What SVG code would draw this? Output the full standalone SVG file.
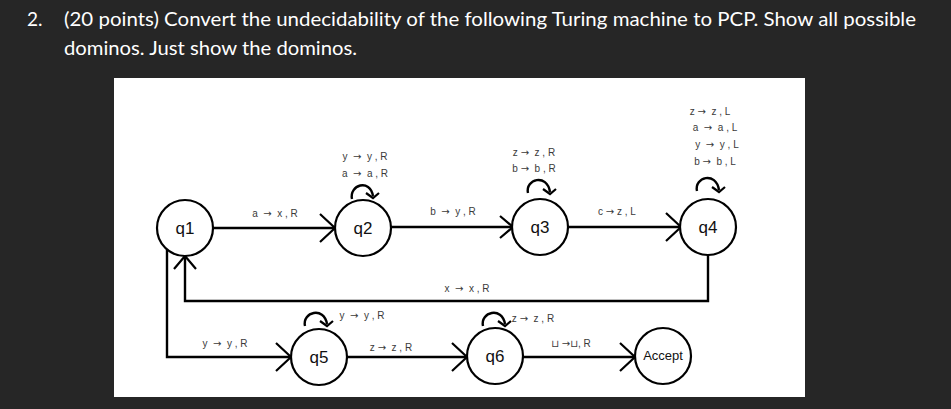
<svg xmlns="http://www.w3.org/2000/svg" width="951" height="409" viewBox="0 0 951 409">
<style>
.title{font-family:"Lato","Open Sans","Liberation Sans",sans-serif;font-size:19px;fill:#ffffff}
.node circle{fill:#ffffff;stroke:#000;stroke-width:2.2}
.node text{font-family:"Liberation Sans",Arial,sans-serif;font-size:17px;fill:#111;text-anchor:middle;dominant-baseline:central}
.node text.small{font-size:13px}
.edge{fill:none;stroke:#000;stroke-width:2.4}
.head{fill:none;stroke:#000;stroke-width:2.2}
.lbl{font-family:"Liberation Sans",Arial,sans-serif;font-size:10px;fill:#3a3a3a;text-anchor:middle;dominant-baseline:central;white-space:pre}
.ar{font-family:"DejaVu Sans",sans-serif;font-size:10px}
</style>
<defs>
<marker id="arr" markerUnits="userSpaceOnUse" markerWidth="40" markerHeight="40" viewBox="-20 -20 40 40" refX="0" refY="0" orient="auto">
<path d="M-15,-14 L0,0 L-15,14" fill="none" stroke="#000" stroke-width="2.2"/>
</marker>
<marker id="arrs" markerUnits="userSpaceOnUse" markerWidth="40" markerHeight="40" viewBox="-20 -20 40 40" refX="0" refY="0" orient="auto">
<path d="M-13,-11 L0,0 L-13,11" fill="none" stroke="#000" stroke-width="2.2"/>
</marker>
</defs>
<rect x="0" y="0" width="951" height="409" fill="#262626"/>
<text class="title" x="27" y="26">2.</text>
<text class="title" x="64" y="26" textLength="852" lengthAdjust="spacingAndGlyphs">(20 points) Convert the undecidability of the following Turing machine to PCP. Show all possible</text>
<text class="title" x="64" y="55" textLength="293" lengthAdjust="spacingAndGlyphs">dominos. Just show the dominos.</text>
<rect x="114" y="78" width="691" height="319" fill="#ffffff"/>

<g id="connectors">
<path class="edge" d="M213,228 H335" marker-end="url(#arr)"/>
<path class="edge" d="M391,227 H513" marker-end="url(#arrs)"/>
<path class="edge" d="M568,227 H681" marker-end="url(#arr)"/>
<path class="edge" d="M708,255 V301 H185 V256" marker-end="url(#arrs)"/>
<path class="edge" d="M167,249 V357 H291" marker-end="url(#arr)"/>
<path class="edge" d="M347,357 H467" marker-end="url(#arr)"/>
<path class="edge" d="M523,357 H635" marker-end="url(#arr)"/>
<!-- self loops -->
<path class="edge" d="M352,199 C349,185 370,178 373,196"/>
<path class="head" d="M366,193 L373,198 L379,193"/>
<path class="edge" d="M528,193 C525,179 547,173 550,192"/>
<path class="head" d="M543,189 L550,194 L556,189"/>
<path class="edge" d="M697,191 C694,177 716,171 719,190"/>
<path class="head" d="M712,187 L719,192 L725,187"/>
<path class="edge" d="M305,326 C302,312 324,306 327,324"/>
<path class="head" d="M320,321 L327,326 L333,321"/>
<path class="edge" d="M483,326 C480,312 502,306 505,324"/>
<path class="head" d="M498,321 L505,326 L511,321"/>
<!-- labels -->
<text class="lbl" x="275" y="213">a  <tspan class="ar">→</tspan>  x , R</text>
<text class="lbl" x="365" y="156">y  <tspan class="ar">→</tspan>  y , R</text>
<text class="lbl" x="365" y="173">a  <tspan class="ar">→</tspan>  a , R</text>
<text class="lbl" x="453" y="211">b  <tspan class="ar">→</tspan>  y , R</text>
<text class="lbl" x="534" y="152">z <tspan class="ar">→</tspan>  z , R</text>
<text class="lbl" x="534" y="168">b <tspan class="ar">→</tspan>  b , R</text>
<text class="lbl" x="617" y="211">c <tspan class="ar">→</tspan> z , L</text>
<text class="lbl" x="710" y="111">z <tspan class="ar">→</tspan>  z , L</text>
<text class="lbl" x="715" y="127">a  <tspan class="ar">→</tspan>  a , L</text>
<text class="lbl" x="717" y="144">y  <tspan class="ar">→</tspan>  y , L</text>
<text class="lbl" x="715" y="161">b <tspan class="ar">→</tspan>  b , L</text>
<text class="lbl" x="467" y="288">x  <tspan class="ar">→</tspan>  x , R</text>
<text class="lbl" x="362" y="315">y  <tspan class="ar">→</tspan>  y , R</text>
<text class="lbl" x="225" y="343">y  <tspan class="ar">→</tspan>  y , R</text>
<text class="lbl" x="391" y="347">z <tspan class="ar">→</tspan>  z , R</text>
<text class="lbl" x="533" y="318">z <tspan class="ar">→</tspan>  z , R</text>
<text class="lbl" x="571" y="343"><tspan class="ar">⊔</tspan> <tspan class="ar">→⊔</tspan>, R</text>
</g>

<g id="q1" class="node"><circle cx="185" cy="228" r="28"/><text x="185" y="228">q1</text></g>
<g id="q2" class="node"><circle cx="363" cy="228" r="28"/><text x="363" y="228">q2</text></g>
<g id="q3" class="node"><circle cx="540" cy="227" r="28"/><text x="540" y="227">q3</text></g>
<g id="q4" class="node"><circle cx="708" cy="227" r="28"/><text x="708" y="227">q4</text></g>
<g id="q5" class="node"><circle cx="319" cy="357" r="28"/><text x="319" y="357">q5</text></g>
<g id="q6" class="node"><circle cx="495" cy="356" r="28"/><text x="495" y="356">q6</text></g>
<g id="accept" class="node"><circle cx="663" cy="356" r="28"/><text class="small" x="663" y="355">Accept</text></g>
</svg>
